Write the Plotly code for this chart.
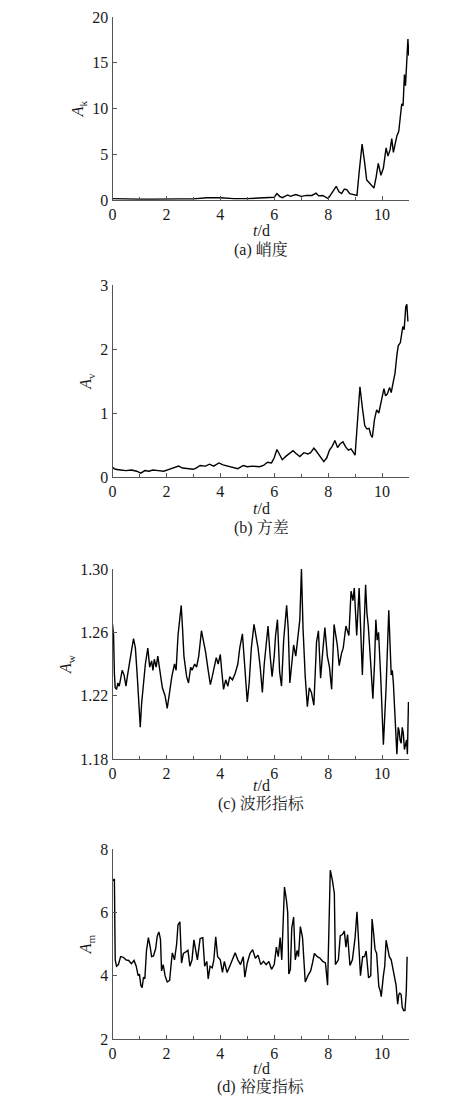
"""
Four condition indicators of a bearing over time (kurtosis, variance,
waveform index, margin index), stacked vertically.
"""

import plotly.graph_objects as go

# (a) kurtosis
t_a = [0, 0.5, 1.0, 1.5, 2.0, 2.5, 3.0, 3.5, 4.0, 4.5, 5.0, 5.5, 5.8, 6.0, 6.1,
       6.2, 6.3, 6.5, 6.6, 6.8, 7.0, 7.2, 7.4, 7.55, 7.65, 7.8, 8.0, 8.15, 8.3,
       8.4, 8.5, 8.6, 8.7, 8.8, 8.9, 9.07, 9.15, 9.26, 9.35, 9.43, 9.55, 9.7,
       9.78, 9.86, 9.96, 10.05, 10.15, 10.22, 10.3, 10.36, 10.42, 10.48, 10.55,
       10.62, 10.68, 10.73, 10.78, 10.83, 10.87, 10.92, 10.96, 10.99]
a_k = [0.15, 0.1, 0.1, 0.1, 0.15, 0.12, 0.12, 0.25, 0.25, 0.15, 0.15, 0.2, 0.25,
       0.3, 0.7, 0.4, 0.25, 0.55, 0.4, 0.6, 0.4, 0.5, 0.5, 0.75, 0.45, 0.5, 0.15,
       0.9, 1.5, 0.9, 0.7, 1.2, 1.1, 0.7, 0.6, 0.5, 3.0, 6.1, 4.2, 2.2, 1.8, 1.3,
       2.5, 4.0, 2.7, 3.5, 5.7, 4.8, 5.5, 6.7, 5.2, 6.2, 7.0, 7.5, 9.0, 10.5,
       10.3, 13.7, 12.5, 16.0, 17.6, 15.8]

# (b) variance
t_b = [0, 0.1, 0.3, 0.5, 0.7, 0.9, 1.05, 1.2, 1.35, 1.5, 1.7, 1.9, 2.1, 2.3,
       2.45, 2.6, 2.8, 3.0, 3.1, 3.25, 3.45, 3.6, 3.75, 3.95, 4.1, 4.3, 4.5,
       4.65, 4.85, 5.0, 5.2, 5.45, 5.6, 5.75, 5.9, 6.0, 6.1, 6.2, 6.3, 6.45,
       6.6, 6.7, 6.8, 6.95, 7.1, 7.25, 7.35, 7.47, 7.55, 7.65, 7.75, 7.84, 7.95,
       8.05, 8.15, 8.25, 8.35, 8.45, 8.55, 8.65, 8.75, 8.85, 9.0, 9.1, 9.18,
       9.28, 9.36, 9.44, 9.52, 9.58, 9.64, 9.72, 9.8, 9.88, 9.95, 10.0, 10.07,
       10.13, 10.2, 10.28, 10.34, 10.4, 10.48, 10.55, 10.6, 10.68, 10.77, 10.82,
       10.88, 10.92, 10.96]
a_v = [0.15, 0.12, 0.11, 0.1, 0.11, 0.09, 0.06, 0.1, 0.09, 0.11, 0.1, 0.09, 0.12,
       0.15, 0.17, 0.14, 0.13, 0.12, 0.14, 0.18, 0.17, 0.2, 0.17, 0.22, 0.19,
       0.17, 0.14, 0.13, 0.18, 0.16, 0.17, 0.16, 0.18, 0.23, 0.22, 0.3, 0.43,
       0.35, 0.27, 0.33, 0.38, 0.41, 0.37, 0.32, 0.38, 0.36, 0.38, 0.45, 0.41,
       0.35, 0.3, 0.24, 0.3, 0.42, 0.48, 0.57, 0.46, 0.52, 0.55, 0.47, 0.42,
       0.44, 0.34, 0.9, 1.41, 1.05, 0.8, 0.75, 0.76, 0.66, 0.62, 0.9, 1.05, 1.0,
       1.15, 1.2, 1.38, 1.27, 1.3, 1.4, 1.32, 1.45, 1.62, 1.9, 2.05, 2.1, 2.35,
       2.3, 2.66, 2.7, 2.43]

# (c) waveform index
t_c = [0, 0.04, 0.07, 0.1, 0.15, 0.2, 0.25, 0.3, 0.36, 0.43, 0.5, 0.55, 0.6,
       0.66, 0.72, 0.78, 0.85, 0.92, 0.98, 1.03, 1.08, 1.15, 1.22, 1.31, 1.38,
       1.45, 1.5, 1.55, 1.62, 1.68, 1.75, 1.85, 1.95, 2.03, 2.1, 2.2, 2.3, 2.36,
       2.43, 2.5, 2.55, 2.6, 2.65, 2.75, 2.82, 2.9, 2.95, 3.05, 3.12, 3.2, 3.3,
       3.38, 3.45, 3.55, 3.63, 3.7, 3.78, 3.85, 3.92, 4.0, 4.05, 4.12, 4.2, 4.28,
       4.35, 4.45, 4.55, 4.65, 4.72, 4.82, 4.9, 5.0, 5.07, 5.15, 5.25, 5.32, 5.4,
       5.48, 5.56, 5.63, 5.7, 5.77, 5.85, 5.92, 6.0, 6.05, 6.12, 6.2, 6.27, 6.35,
       6.46, 6.52, 6.58, 6.65, 6.72, 6.8, 6.88, 6.95, 7.01, 7.07, 7.15, 7.23,
       7.3, 7.38, 7.47, 7.57, 7.64, 7.72, 7.8, 7.88, 7.97, 8.05, 8.13, 8.22,
       8.34, 8.41, 8.5, 8.56, 8.66, 8.77, 8.85, 8.92, 8.97, 9.06, 9.15, 9.22,
       9.27, 9.33, 9.39, 9.44, 9.49, 9.58, 9.66, 9.72, 9.77, 9.82, 9.87, 9.95,
       10.0, 10.05, 10.15, 10.25, 10.34, 10.38, 10.42, 10.48, 10.55, 10.6, 10.63,
       10.67, 10.71, 10.75, 10.79, 10.83, 10.87, 10.91, 10.94, 10.98]
a_w = [1.265, 1.258, 1.234, 1.225, 1.224, 1.228, 1.226, 1.232, 1.236, 1.233,
       1.226, 1.232, 1.238, 1.242, 1.25, 1.256, 1.25, 1.232, 1.215, 1.2, 1.215,
       1.228, 1.24, 1.25, 1.238, 1.242, 1.236, 1.243, 1.238, 1.245, 1.236,
       1.225, 1.22, 1.212, 1.22, 1.232, 1.24, 1.236, 1.258, 1.27, 1.277, 1.262,
       1.245, 1.232, 1.228, 1.238, 1.236, 1.24, 1.238, 1.245, 1.261, 1.254,
       1.248, 1.236, 1.227, 1.232, 1.238, 1.244, 1.24, 1.246, 1.236, 1.224,
       1.23, 1.226, 1.232, 1.23, 1.234, 1.24, 1.25, 1.259, 1.24, 1.216, 1.228,
       1.25, 1.265, 1.258, 1.25, 1.238, 1.222, 1.24, 1.252, 1.264, 1.245, 1.232,
       1.245, 1.258, 1.268, 1.235, 1.226, 1.255, 1.277, 1.262, 1.228, 1.24,
       1.252, 1.245, 1.258, 1.268, 1.30, 1.262, 1.232, 1.213, 1.225, 1.222,
       1.214, 1.254, 1.261, 1.231, 1.248, 1.263, 1.245, 1.238, 1.224, 1.265,
       1.252, 1.239, 1.247, 1.25, 1.264, 1.258, 1.286, 1.28, 1.288, 1.258,
       1.288, 1.26, 1.233, 1.262, 1.29, 1.272, 1.264, 1.24, 1.218, 1.24, 1.268,
       1.255, 1.26, 1.232, 1.212, 1.189, 1.225, 1.274, 1.233, 1.236, 1.228,
       1.21, 1.183, 1.2, 1.198, 1.192, 1.19, 1.2, 1.196, 1.186, 1.19, 1.192,
       1.183, 1.216]

# (d) margin index
t_d = [0, 0.07, 0.1, 0.15, 0.22, 0.3, 0.4, 0.5, 0.6, 0.7, 0.8, 0.88, 0.95, 1.0,
       1.05, 1.1, 1.15, 1.2, 1.26, 1.33, 1.4, 1.45, 1.52, 1.6, 1.66, 1.72, 1.78,
       1.82, 1.88, 1.95, 2.03, 2.12, 2.18, 2.22, 2.3, 2.38, 2.43, 2.5, 2.56,
       2.63, 2.72, 2.8, 2.87, 2.95, 3.02, 3.1, 3.15, 3.25, 3.35, 3.42, 3.5, 3.55,
       3.62, 3.7, 3.76, 3.83, 3.9, 4.0, 4.08, 4.15, 4.25, 4.35, 4.45, 4.55, 4.65,
       4.75, 4.85, 4.91, 5.0, 5.1, 5.2, 5.3, 5.4, 5.5, 5.6, 5.7, 5.8, 5.9, 6.0,
       6.08, 6.15, 6.22, 6.28, 6.33, 6.38, 6.45, 6.5, 6.54, 6.6, 6.65, 6.72,
       6.78, 6.85, 6.9, 6.97, 7.05, 7.1, 7.15, 7.25, 7.35, 7.42, 7.49, 7.6, 7.7,
       7.8, 7.9, 7.98, 8.08, 8.16, 8.23, 8.27, 8.33, 8.38, 8.45, 8.53, 8.6, 8.66,
       8.72, 8.77, 8.81, 8.9, 9.0, 9.07, 9.13, 9.2, 9.28, 9.35, 9.41, 9.45, 9.5,
       9.58, 9.63, 9.68, 9.74, 9.8, 9.85, 9.88, 9.94, 9.97, 10.05, 10.1, 10.15,
       10.2, 10.27, 10.34, 10.4, 10.46, 10.52, 10.58, 10.62, 10.66, 10.71, 10.75,
       10.8, 10.85, 10.9, 10.93]
a_m = [7.0, 7.05, 4.5, 4.3, 4.35, 4.6, 4.58, 4.5, 4.48, 4.38, 4.48, 4.3, 4.0,
       4.05, 3.7, 3.62, 3.95, 3.9, 4.78, 5.2, 4.9, 4.6, 4.62, 4.85, 5.25, 5.38,
       5.15, 4.15, 4.35, 4.0, 3.8, 3.85, 4.4, 4.72, 4.5, 5.0, 5.6, 5.7, 4.4, 4.7,
       4.75, 4.8, 4.3, 4.5, 5.13, 4.8, 4.5, 5.17, 5.2, 4.3, 4.45, 3.9, 4.3, 4.25,
       4.5, 5.23, 4.6, 4.5, 4.1, 4.45, 4.1, 4.3, 4.5, 4.72, 4.5, 4.35, 4.6, 3.95,
       4.4, 4.7, 4.82, 4.55, 4.65, 4.35, 4.45, 4.35, 4.45, 4.2, 4.35, 4.9, 4.6,
       5.2, 4.5, 5.5, 6.8, 6.4, 6.0, 4.05, 4.2, 5.5, 5.85, 4.5, 4.8, 4.6, 5.55,
       5.2, 4.4, 3.8, 4.0, 4.15, 4.4, 4.7, 4.6, 4.55, 4.45, 4.4, 3.7, 7.33, 7.0,
       6.6, 4.35, 4.45, 4.5, 5.26, 5.3, 5.41, 4.9, 5.3, 4.8, 4.32, 4.5, 5.2,
       6.02, 5.0, 4.0, 4.6, 4.6, 4.78, 4.4, 3.93, 4.0, 5.79, 5.4, 4.83, 4.7, 4.2,
       3.66, 3.5, 3.34, 4.0, 4.3, 5.12, 4.9, 4.6, 4.5, 4.2, 4.0, 3.7, 3.1, 3.4,
       3.45, 3.4, 3.0, 2.9, 2.9, 3.5, 4.6]

panels = [
    (t_a, a_k, "k", [0, 20], 5, "(a) 峭度"),
    (t_b, a_v, "v", [0, 3], 1, "(b) 方差"),
    (t_c, a_w, "w", [1.18, 1.30], 0.04, "(c) 波形指标"),
    (t_d, a_m, "m", [2, 8], 2, "(d) 裕度指标"),
]

W, H = 474, 1106
OFF = 8  # the page body adds an 8px margin around the figure
# pixel rows of each plot area (top, bottom), as seen on the page
rows_px = [(17, 200), (285, 477), (569, 759), (849, 1039)]
xlab_px = [230, 508, 785, 1068]
caption_px = [250, 528, 804, 1087]
x_dom = [(112.5 - OFF) / W, (409 - OFF) / W]
x_mid = (261 - OFF) / W


def py(p):
    return 1 - (p - OFF) / H


serif = "Liberation Serif, Times New Roman, serif"
cjk = "Liberation Serif, Noto Serif CJK SC, Noto Sans CJK SC, serif"
axis_col = "#555555"
txt_col = "#1a1a1a"

fig = go.Figure()
layout = {}
annotations = []
for i, (t, v, sub, yr, dt, cap) in enumerate(panels):
    n = "" if i == 0 else str(i + 1)
    top, bot = rows_px[i]
    fig.add_trace(go.Scatter(
        x=t, y=v, mode="lines",
        line={"color": "black", "width": 1.4},
        xaxis="x" + n, yaxis="y" + n,
        showlegend=False, hoverinfo="skip",
    ))
    layout["xaxis" + n] = dict(
        domain=x_dom, anchor="y" + n, range=[0, 11], automargin=False,
        tickmode="linear", tick0=0, dtick=2,
        ticks="inside", ticklen=4, tickcolor=axis_col,
        minor=dict(ticks="inside", ticklen=3, dtick=1, tickcolor=axis_col),
        showline=True, linecolor=axis_col, linewidth=1,
        showgrid=False, zeroline=False, ticklabeloverflow="allow",
        tickfont=dict(family=serif, size=16, color=txt_col),
    )
    fmt = ".2f" if sub == "w" else ""
    layout["yaxis" + n] = dict(
        domain=[py(bot), py(top)], anchor="x" + n, range=yr,
        automargin=False,
        tickmode="linear", tick0=yr[0], dtick=dt, tickformat=fmt,
        ticks="inside", ticklen=4, tickcolor=axis_col,
        showline=True, linecolor=axis_col, linewidth=1,
        showgrid=False, zeroline=False, ticklabeloverflow="allow",
        tickfont=dict(family=serif, size=16, color=txt_col),
        title=dict(text=f"<i>A</i><sub>{sub}</sub>", standoff=4,
                   font=dict(family=serif, size=16, color=txt_col)),
    )
    annotations.append(dict(
        text="<i>t</i>/d", xref="paper", yref="paper",
        x=x_mid, y=py(xlab_px[i]),
        xanchor="center", yanchor="middle", showarrow=False,
        font=dict(family=serif, size=16, color=txt_col),
    ))
    annotations.append(dict(
        text=cap, xref="paper", yref="paper",
        x=x_mid, y=py(caption_px[i]),
        xanchor="center", yanchor="middle", showarrow=False,
        font=dict(family=cjk, size=16, color=txt_col),
    ))

fig.update_layout(
    **layout,
    annotations=annotations,
    width=W, height=H,
    margin=dict(l=0, r=0, t=0, b=0),
    plot_bgcolor="white", paper_bgcolor="white",
)

fig.write_html("out.html")
